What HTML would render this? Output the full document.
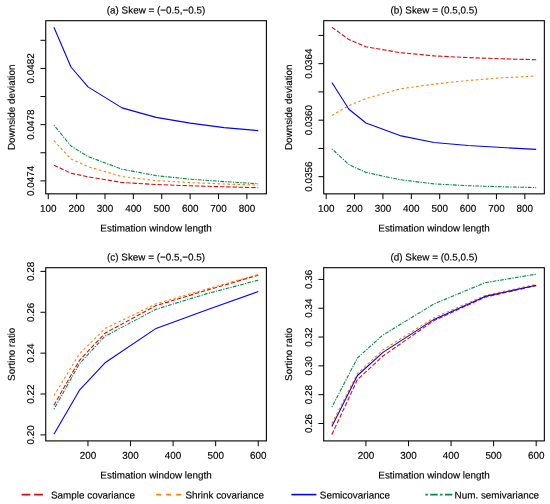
<!DOCTYPE html><html><head><meta charset="utf-8"><style>html,body{margin:0;padding:0;background:#fff;}svg{display:block;}text{font-family:"Liberation Sans", sans-serif;font-size:9.9px;fill:#000;text-rendering:geometricPrecision;stroke:#000;stroke-width:0.15px;}#w{will-change:transform;width:550px;height:504px;}</style></head><body><div id="w">
<svg width="550" height="504" viewBox="0 0 550 504">
<rect width="550" height="504" fill="#fff"/>
<polyline points="53.92,165.20 70.95,173.20 87.97,176.80 122.02,182.50 156.07,184.50 190.13,185.80 224.18,186.80 258.23,187.70" fill="none" stroke="#DF0A0A" stroke-width="1.1" stroke-linejoin="round" stroke-linecap="butt" stroke-dasharray="4.375 1.875"/>
<polyline points="53.92,140.60 70.95,159.00 87.97,166.60 122.02,176.60 156.07,180.60 190.13,182.60 224.18,184.00 258.23,185.10" fill="none" stroke="#FF8000" stroke-width="1.1" stroke-linejoin="round" stroke-linecap="butt" stroke-dasharray="2.5 2.5"/>
<polyline points="53.92,27.30 70.95,67.00 87.97,86.90 122.02,107.90 156.07,117.40 190.13,123.10 224.18,127.60 258.23,130.60" fill="none" stroke="#0000FF" stroke-width="1.1" stroke-linejoin="round" stroke-linecap="butt"/>
<polyline points="53.92,125.10 70.95,146.00 87.97,156.50 122.02,169.20 156.07,175.60 190.13,179.20 224.18,181.60 258.23,183.70" fill="none" stroke="#008B45" stroke-width="1.1" stroke-linejoin="round" stroke-linecap="butt" stroke-dasharray="1.25 1.25 3.75 1.25"/>
<rect x="45.75" y="20.70" width="220.65" height="173.15" fill="none" stroke="#000" stroke-width="1.1"/>
<line x1="48.25" y1="193.85" x2="48.25" y2="199.15" stroke="#000" stroke-width="1.0"/>
<text transform="translate(48.25,211.65) rotate(0.03) scale(1,1.0)" text-anchor="middle">100</text>
<line x1="76.62" y1="193.85" x2="76.62" y2="199.15" stroke="#000" stroke-width="1.0"/>
<text transform="translate(76.62,211.65) rotate(0.03) scale(1,1.0)" text-anchor="middle">200</text>
<line x1="105.00" y1="193.85" x2="105.00" y2="199.15" stroke="#000" stroke-width="1.0"/>
<text transform="translate(105.00,211.65) rotate(0.03) scale(1,1.0)" text-anchor="middle">300</text>
<line x1="133.37" y1="193.85" x2="133.37" y2="199.15" stroke="#000" stroke-width="1.0"/>
<text transform="translate(133.37,211.65) rotate(0.03) scale(1,1.0)" text-anchor="middle">400</text>
<line x1="161.75" y1="193.85" x2="161.75" y2="199.15" stroke="#000" stroke-width="1.0"/>
<text transform="translate(161.75,211.65) rotate(0.03) scale(1,1.0)" text-anchor="middle">500</text>
<line x1="190.13" y1="193.85" x2="190.13" y2="199.15" stroke="#000" stroke-width="1.0"/>
<text transform="translate(190.13,211.65) rotate(0.03) scale(1,1.0)" text-anchor="middle">600</text>
<line x1="218.50" y1="193.85" x2="218.50" y2="199.15" stroke="#000" stroke-width="1.0"/>
<text transform="translate(218.50,211.65) rotate(0.03) scale(1,1.0)" text-anchor="middle">700</text>
<line x1="246.88" y1="193.85" x2="246.88" y2="199.15" stroke="#000" stroke-width="1.0"/>
<text transform="translate(246.88,211.65) rotate(0.03) scale(1,1.0)" text-anchor="middle">800</text>
<line x1="40.45" y1="180.90" x2="45.75" y2="180.90" stroke="#000" stroke-width="1.0"/>
<text transform="translate(33.95,180.90) rotate(-90.03) scale(1,1.0)" text-anchor="middle">0.0474</text>
<line x1="40.45" y1="152.78" x2="45.75" y2="152.78" stroke="#000" stroke-width="1.0"/>
<line x1="40.45" y1="124.66" x2="45.75" y2="124.66" stroke="#000" stroke-width="1.0"/>
<text transform="translate(33.95,124.66) rotate(-90.03) scale(1,1.0)" text-anchor="middle">0.0478</text>
<line x1="40.45" y1="96.54" x2="45.75" y2="96.54" stroke="#000" stroke-width="1.0"/>
<line x1="40.45" y1="68.42" x2="45.75" y2="68.42" stroke="#000" stroke-width="1.0"/>
<text transform="translate(33.95,68.42) rotate(-90.03) scale(1,1.0)" text-anchor="middle">0.0482</text>
<line x1="40.45" y1="40.30" x2="45.75" y2="40.30" stroke="#000" stroke-width="1.0"/>
<text transform="translate(156.07,13.60) rotate(0.03) scale(1,1.0)" text-anchor="middle">(a) Skew = (−0.5,−0.5)</text>
<text transform="translate(156.07,231.45) rotate(0.03) scale(1,1.0)" text-anchor="middle">Estimation window length</text>
<text transform="translate(14.70,107.27) rotate(-90.03) scale(1,1.0)" text-anchor="middle">Downside deviation</text>
<polyline points="331.87,27.10 348.90,39.60 365.92,46.80 399.97,52.60 434.02,55.90 468.08,57.60 502.13,58.80 536.18,59.70" fill="none" stroke="#DF0A0A" stroke-width="1.1" stroke-linejoin="round" stroke-linecap="butt" stroke-dasharray="4.375 1.875"/>
<polyline points="331.87,115.60 348.90,105.60 365.92,98.60 399.97,88.90 434.02,84.10 468.08,80.50 502.13,77.80 536.18,76.00" fill="none" stroke="#FF8000" stroke-width="1.1" stroke-linejoin="round" stroke-linecap="butt" stroke-dasharray="2.5 2.5"/>
<polyline points="331.87,82.50 348.90,109.30 365.92,123.00 399.97,135.60 434.02,142.50 468.08,145.50 502.13,147.50 536.18,149.40" fill="none" stroke="#0000FF" stroke-width="1.1" stroke-linejoin="round" stroke-linecap="butt"/>
<polyline points="331.87,148.80 348.90,164.60 365.92,172.40 399.97,179.70 434.02,183.90 468.08,185.70 502.13,186.80 536.18,187.60" fill="none" stroke="#008B45" stroke-width="1.1" stroke-linejoin="round" stroke-linecap="butt" stroke-dasharray="1.25 1.25 3.75 1.25"/>
<rect x="323.70" y="20.70" width="220.65" height="173.15" fill="none" stroke="#000" stroke-width="1.1"/>
<line x1="326.20" y1="193.85" x2="326.20" y2="199.15" stroke="#000" stroke-width="1.0"/>
<text transform="translate(326.20,211.65) rotate(0.03) scale(1,1.0)" text-anchor="middle">100</text>
<line x1="354.57" y1="193.85" x2="354.57" y2="199.15" stroke="#000" stroke-width="1.0"/>
<text transform="translate(354.57,211.65) rotate(0.03) scale(1,1.0)" text-anchor="middle">200</text>
<line x1="382.95" y1="193.85" x2="382.95" y2="199.15" stroke="#000" stroke-width="1.0"/>
<text transform="translate(382.95,211.65) rotate(0.03) scale(1,1.0)" text-anchor="middle">300</text>
<line x1="411.32" y1="193.85" x2="411.32" y2="199.15" stroke="#000" stroke-width="1.0"/>
<text transform="translate(411.32,211.65) rotate(0.03) scale(1,1.0)" text-anchor="middle">400</text>
<line x1="439.70" y1="193.85" x2="439.70" y2="199.15" stroke="#000" stroke-width="1.0"/>
<text transform="translate(439.70,211.65) rotate(0.03) scale(1,1.0)" text-anchor="middle">500</text>
<line x1="468.08" y1="193.85" x2="468.08" y2="199.15" stroke="#000" stroke-width="1.0"/>
<text transform="translate(468.08,211.65) rotate(0.03) scale(1,1.0)" text-anchor="middle">600</text>
<line x1="496.45" y1="193.85" x2="496.45" y2="199.15" stroke="#000" stroke-width="1.0"/>
<text transform="translate(496.45,211.65) rotate(0.03) scale(1,1.0)" text-anchor="middle">700</text>
<line x1="524.83" y1="193.85" x2="524.83" y2="199.15" stroke="#000" stroke-width="1.0"/>
<text transform="translate(524.83,211.65) rotate(0.03) scale(1,1.0)" text-anchor="middle">800</text>
<line x1="318.40" y1="176.70" x2="323.70" y2="176.70" stroke="#000" stroke-width="1.0"/>
<text transform="translate(311.90,176.70) rotate(-90.03) scale(1,1.0)" text-anchor="middle">0.0356</text>
<line x1="318.40" y1="148.44" x2="323.70" y2="148.44" stroke="#000" stroke-width="1.0"/>
<line x1="318.40" y1="120.18" x2="323.70" y2="120.18" stroke="#000" stroke-width="1.0"/>
<text transform="translate(311.90,120.18) rotate(-90.03) scale(1,1.0)" text-anchor="middle">0.0360</text>
<line x1="318.40" y1="91.92" x2="323.70" y2="91.92" stroke="#000" stroke-width="1.0"/>
<line x1="318.40" y1="63.66" x2="323.70" y2="63.66" stroke="#000" stroke-width="1.0"/>
<text transform="translate(311.90,63.66) rotate(-90.03) scale(1,1.0)" text-anchor="middle">0.0364</text>
<line x1="318.40" y1="35.40" x2="323.70" y2="35.40" stroke="#000" stroke-width="1.0"/>
<text transform="translate(434.02,13.60) rotate(0.03) scale(1,1.0)" text-anchor="middle">(b) Skew = (0.5,0.5)</text>
<text transform="translate(434.02,231.45) rotate(0.03) scale(1,1.0)" text-anchor="middle">Estimation window length</text>
<text transform="translate(292.05,107.27) rotate(-90.03) scale(1,1.0)" text-anchor="middle">Downside deviation</text>
<polyline points="53.92,405.20 79.46,360.40 105.00,333.20 156.07,305.60 207.15,290.10 258.23,275.10" fill="none" stroke="#DF0A0A" stroke-width="1.1" stroke-linejoin="round" stroke-linecap="butt" stroke-dasharray="4.375 1.875"/>
<polyline points="53.92,395.70 79.46,353.80 105.00,328.60 156.07,303.80 207.15,288.90 258.23,274.60" fill="none" stroke="#FF8000" stroke-width="1.1" stroke-linejoin="round" stroke-linecap="butt" stroke-dasharray="2.5 2.5"/>
<polyline points="53.92,434.20 79.46,390.20 105.00,362.80 156.07,328.40 207.15,309.80 258.23,291.60" fill="none" stroke="#0000FF" stroke-width="1.1" stroke-linejoin="round" stroke-linecap="butt"/>
<polyline points="53.92,409.20 79.46,363.70 105.00,336.20 156.07,309.20 207.15,293.60 258.23,280.20" fill="none" stroke="#008B45" stroke-width="1.1" stroke-linejoin="round" stroke-linecap="butt" stroke-dasharray="1.25 1.25 3.75 1.25"/>
<rect x="45.75" y="267.70" width="220.65" height="173.20" fill="none" stroke="#000" stroke-width="1.1"/>
<line x1="87.97" y1="440.90" x2="87.97" y2="446.20" stroke="#000" stroke-width="1.0"/>
<text transform="translate(87.97,458.70) rotate(0.03) scale(1,1.0)" text-anchor="middle">200</text>
<line x1="130.54" y1="440.90" x2="130.54" y2="446.20" stroke="#000" stroke-width="1.0"/>
<text transform="translate(130.54,458.70) rotate(0.03) scale(1,1.0)" text-anchor="middle">300</text>
<line x1="173.10" y1="440.90" x2="173.10" y2="446.20" stroke="#000" stroke-width="1.0"/>
<text transform="translate(173.10,458.70) rotate(0.03) scale(1,1.0)" text-anchor="middle">400</text>
<line x1="215.66" y1="440.90" x2="215.66" y2="446.20" stroke="#000" stroke-width="1.0"/>
<text transform="translate(215.66,458.70) rotate(0.03) scale(1,1.0)" text-anchor="middle">500</text>
<line x1="258.23" y1="440.90" x2="258.23" y2="446.20" stroke="#000" stroke-width="1.0"/>
<text transform="translate(258.23,458.70) rotate(0.03) scale(1,1.0)" text-anchor="middle">600</text>
<line x1="40.45" y1="434.90" x2="45.75" y2="434.90" stroke="#000" stroke-width="1.0"/>
<text transform="translate(33.95,434.90) rotate(-90.03) scale(1,1.0)" text-anchor="middle">0.20</text>
<line x1="40.45" y1="394.02" x2="45.75" y2="394.02" stroke="#000" stroke-width="1.0"/>
<text transform="translate(33.95,394.02) rotate(-90.03) scale(1,1.0)" text-anchor="middle">0.22</text>
<line x1="40.45" y1="353.15" x2="45.75" y2="353.15" stroke="#000" stroke-width="1.0"/>
<text transform="translate(33.95,353.15) rotate(-90.03) scale(1,1.0)" text-anchor="middle">0.24</text>
<line x1="40.45" y1="312.27" x2="45.75" y2="312.27" stroke="#000" stroke-width="1.0"/>
<text transform="translate(33.95,312.27) rotate(-90.03) scale(1,1.0)" text-anchor="middle">0.26</text>
<line x1="40.45" y1="271.40" x2="45.75" y2="271.40" stroke="#000" stroke-width="1.0"/>
<text transform="translate(33.95,271.40) rotate(-90.03) scale(1,1.0)" text-anchor="middle">0.28</text>
<text transform="translate(156.07,260.60) rotate(0.03) scale(1,1.0)" text-anchor="middle">(c) Skew = (−0.5,−0.5)</text>
<text transform="translate(156.07,478.50) rotate(0.03) scale(1,1.0)" text-anchor="middle">Estimation window length</text>
<text transform="translate(14.70,354.30) rotate(-90.03) scale(1,1.0)" text-anchor="middle">Sortino ratio</text>
<polyline points="331.87,434.50 357.41,379.60 382.95,356.00 434.02,320.60 485.10,297.20 536.18,285.60" fill="none" stroke="#DF0A0A" stroke-width="1.1" stroke-linejoin="round" stroke-linecap="butt" stroke-dasharray="4.375 1.875"/>
<polyline points="331.87,423.40 357.41,373.60 382.95,349.90 434.02,317.80 485.10,295.40 536.18,284.40" fill="none" stroke="#FF8000" stroke-width="1.1" stroke-linejoin="round" stroke-linecap="butt" stroke-dasharray="2.5 2.5"/>
<polyline points="331.87,426.60 357.41,375.50 382.95,352.40 434.02,319.40 485.10,296.40 536.18,285.20" fill="none" stroke="#0000FF" stroke-width="1.1" stroke-linejoin="round" stroke-linecap="butt"/>
<polyline points="331.87,407.10 357.41,358.00 382.95,335.00 434.02,303.90 485.10,282.70 536.18,274.20" fill="none" stroke="#008B45" stroke-width="1.1" stroke-linejoin="round" stroke-linecap="butt" stroke-dasharray="1.25 1.25 3.75 1.25"/>
<rect x="323.70" y="267.70" width="220.65" height="173.20" fill="none" stroke="#000" stroke-width="1.1"/>
<line x1="365.92" y1="440.90" x2="365.92" y2="446.20" stroke="#000" stroke-width="1.0"/>
<text transform="translate(365.92,458.70) rotate(0.03) scale(1,1.0)" text-anchor="middle">200</text>
<line x1="408.49" y1="440.90" x2="408.49" y2="446.20" stroke="#000" stroke-width="1.0"/>
<text transform="translate(408.49,458.70) rotate(0.03) scale(1,1.0)" text-anchor="middle">300</text>
<line x1="451.05" y1="440.90" x2="451.05" y2="446.20" stroke="#000" stroke-width="1.0"/>
<text transform="translate(451.05,458.70) rotate(0.03) scale(1,1.0)" text-anchor="middle">400</text>
<line x1="493.61" y1="440.90" x2="493.61" y2="446.20" stroke="#000" stroke-width="1.0"/>
<text transform="translate(493.61,458.70) rotate(0.03) scale(1,1.0)" text-anchor="middle">500</text>
<line x1="536.18" y1="440.90" x2="536.18" y2="446.20" stroke="#000" stroke-width="1.0"/>
<text transform="translate(536.18,458.70) rotate(0.03) scale(1,1.0)" text-anchor="middle">600</text>
<line x1="318.40" y1="423.50" x2="323.70" y2="423.50" stroke="#000" stroke-width="1.0"/>
<text transform="translate(311.90,423.50) rotate(-90.03) scale(1,1.0)" text-anchor="middle">0.26</text>
<line x1="318.40" y1="394.68" x2="323.70" y2="394.68" stroke="#000" stroke-width="1.0"/>
<text transform="translate(311.90,394.68) rotate(-90.03) scale(1,1.0)" text-anchor="middle">0.28</text>
<line x1="318.40" y1="365.86" x2="323.70" y2="365.86" stroke="#000" stroke-width="1.0"/>
<text transform="translate(311.90,365.86) rotate(-90.03) scale(1,1.0)" text-anchor="middle">0.30</text>
<line x1="318.40" y1="337.04" x2="323.70" y2="337.04" stroke="#000" stroke-width="1.0"/>
<text transform="translate(311.90,337.04) rotate(-90.03) scale(1,1.0)" text-anchor="middle">0.32</text>
<line x1="318.40" y1="308.22" x2="323.70" y2="308.22" stroke="#000" stroke-width="1.0"/>
<text transform="translate(311.90,308.22) rotate(-90.03) scale(1,1.0)" text-anchor="middle">0.34</text>
<line x1="318.40" y1="279.40" x2="323.70" y2="279.40" stroke="#000" stroke-width="1.0"/>
<text transform="translate(311.90,279.40) rotate(-90.03) scale(1,1.0)" text-anchor="middle">0.36</text>
<text transform="translate(434.02,260.60) rotate(0.03) scale(1,1.0)" text-anchor="middle">(d) Skew = (0.5,0.5)</text>
<text transform="translate(434.02,478.50) rotate(0.03) scale(1,1.0)" text-anchor="middle">Estimation window length</text>
<text transform="translate(292.05,354.30) rotate(-90.03) scale(1,1.0)" text-anchor="middle">Sortino ratio</text>
<line x1="21.60" y1="494.60" x2="46.60" y2="494.60" stroke="#DF0A0A" stroke-width="1.6" stroke-linecap="butt" stroke-dasharray="8.75 3.75"/>
<text transform="translate(51.00,498.50) rotate(0.03) scale(1,1.0)">Sample covariance</text>
<line x1="156.20" y1="494.60" x2="181.20" y2="494.60" stroke="#FF8000" stroke-width="1.6" stroke-linecap="butt" stroke-dasharray="5 5"/>
<text transform="translate(185.40,498.50) rotate(0.03) scale(1,1.0)">Shrink covariance</text>
<line x1="291.40" y1="494.60" x2="316.40" y2="494.60" stroke="#0000FF" stroke-width="1.6" stroke-linecap="butt"/>
<text transform="translate(319.80,498.50) rotate(0.03) scale(1,1.0)">Semicovariance</text>
<line x1="425.40" y1="494.60" x2="452.40" y2="494.60" stroke="#008B45" stroke-width="1.6" stroke-linecap="butt" stroke-dasharray="2.45 2.45 7.35 2.45"/>
<text transform="translate(454.60,498.50) rotate(0.03) scale(1,1.0)">Num. semivariance</text>
</svg></div></body></html>
